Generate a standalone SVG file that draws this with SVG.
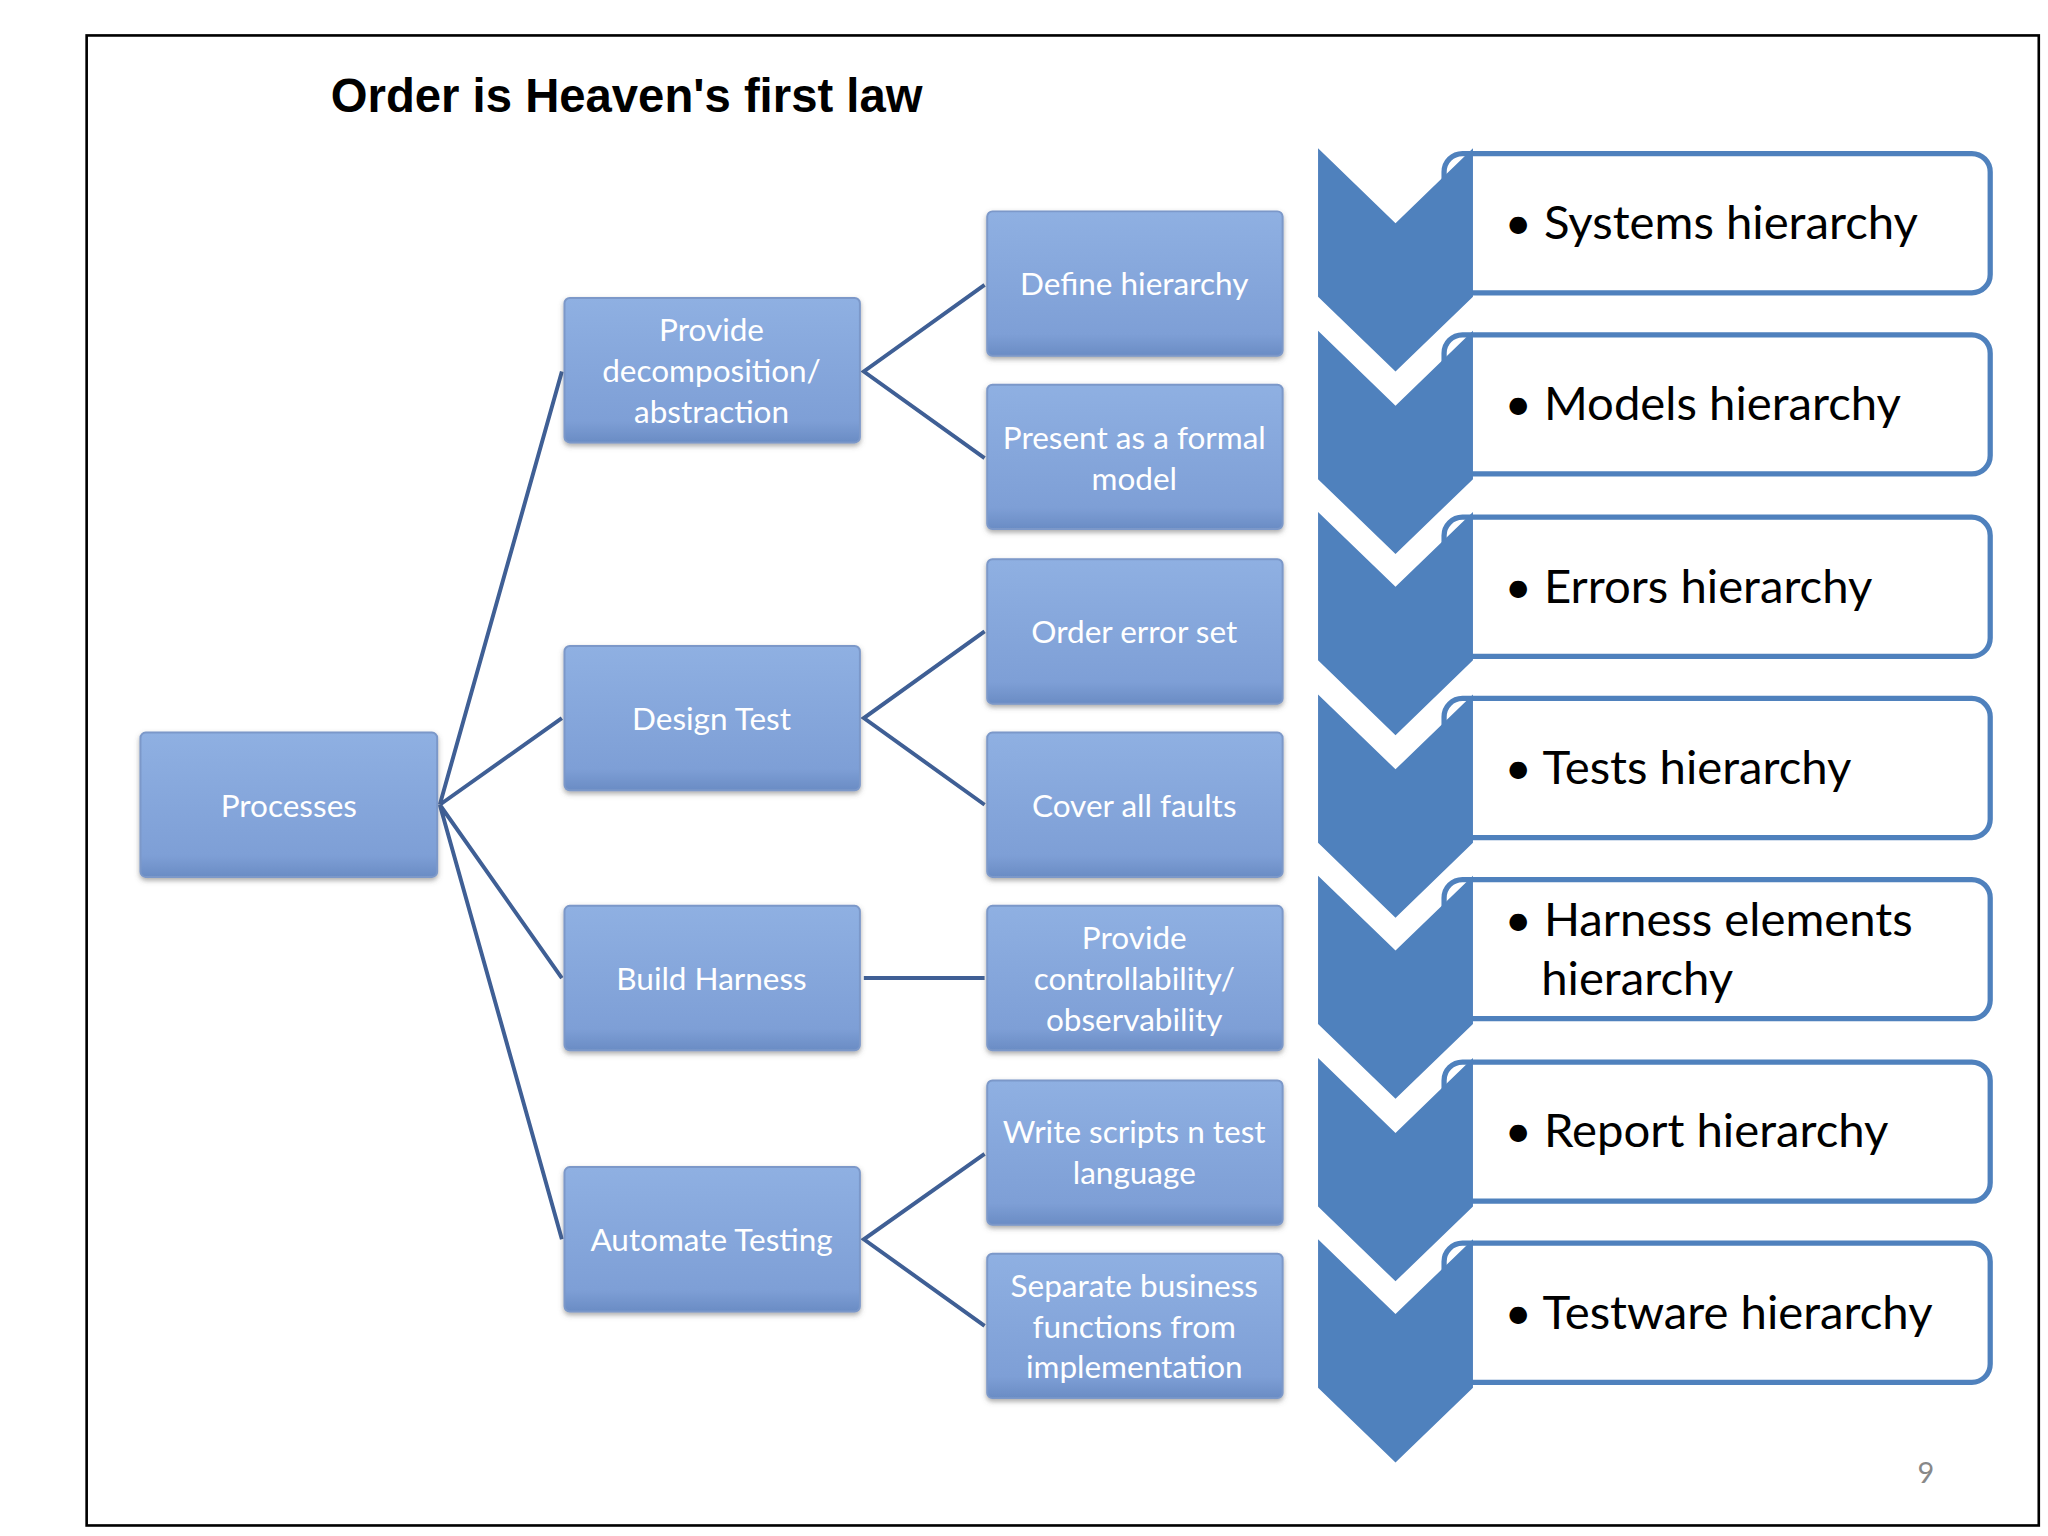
<svg xmlns="http://www.w3.org/2000/svg" width="2048" height="1536" viewBox="0 0 2048 1536">
<defs>
<linearGradient id="bg" x1="0" y1="0" x2="0" y2="1">
<stop offset="0" stop-color="#8fb0e2"/><stop offset="0.85" stop-color="#7e9fd6"/><stop offset="1" stop-color="#6a8cc4"/>
</linearGradient>
<filter id="sh" x="-10%" y="-10%" width="120%" height="130%"><feDropShadow dx="0" dy="2" stdDeviation="2" flood-color="#555" flood-opacity="0.5"/></filter>
</defs>
<style>
.b{fill:url(#bg);stroke:#7b98c9;stroke-width:1.5;filter:url(#sh)}
.bt{font-family:Lato,"Open Sans",sans-serif;font-size:24px;fill:#fff;text-anchor:middle}
.c{stroke:#3f5f95;stroke-width:3;fill:none}
.ch{fill:#4f81bd}
.rb{fill:#fff;stroke:#4f81bd;stroke-width:4}
.rt{font-family:Lato,"Open Sans",sans-serif;font-size:36px;fill:#000}
</style>
<rect width="2048" height="1536" fill="#fff"/>
<g transform="scale(1.3128)">
<rect x="66" y="27" width="1487" height="1135" fill="none" stroke="#000" stroke-width="2"/>
<text x="252" y="85" font-family="Liberation Sans,Arial,sans-serif" font-weight="bold" font-size="36">Order is Heaven's first law</text>
<g id="connectors">
<path class="c" d="M335 613L428 283M335 613L428 547M335 613L428 745M335 613L428 944"/>
<path class="c" d="M750 217L658 283L750 349M750 481L658 547L750 613M658 745H750M750 879L658 944L750 1010"/>
</g>
<g id="processes"><rect class="b" x="107" y="558" width="226" height="110" rx="4"/><text class="bt" x="220" y="622">Processes</text></g>
<g id="decomp"><rect class="b" x="430" y="227" width="225" height="110" rx="4"/><text class="bt" x="542" y="260">Provide</text><text class="bt" x="542" y="291">decomposition/</text><text class="bt" x="542" y="322">abstraction</text></g>
<g id="design"><rect class="b" x="430" y="492" width="225" height="110" rx="4"/><text class="bt" x="542" y="556">Design Test</text></g>
<g id="harness"><rect class="b" x="430" y="690" width="225" height="110" rx="4"/><text class="bt" x="542" y="754">Build Harness</text></g>
<g id="automate"><rect class="b" x="430" y="889" width="225" height="110" rx="4"/><text class="bt" x="542" y="953">Automate Testing</text></g>
<g id="define"><rect class="b" x="752" y="161" width="225" height="110" rx="4"/><text class="bt" x="864" y="225">Define hierarchy</text></g>
<g id="present"><rect class="b" x="752" y="293" width="225" height="110" rx="4"/><text class="bt" x="864" y="342">Present as a formal</text><text class="bt" x="864" y="373">model</text></g>
<g id="order"><rect class="b" x="752" y="426" width="225" height="110" rx="4"/><text class="bt" x="864" y="490">Order error set</text></g>
<g id="cover"><rect class="b" x="752" y="558" width="225" height="110" rx="4"/><text class="bt" x="864" y="622">Cover all faults</text></g>
<g id="ctrl"><rect class="b" x="752" y="690" width="225" height="110" rx="4"/><text class="bt" x="864" y="723">Provide</text><text class="bt" x="864" y="754">controllability/</text><text class="bt" x="864" y="785">observability</text></g>
<g id="write"><rect class="b" x="752" y="823" width="225" height="110" rx="4"/><text class="bt" x="864" y="871">Write scripts n test</text><text class="bt" x="864" y="902">language</text></g>
<g id="separate"><rect class="b" x="752" y="955" width="225" height="110" rx="4"/><text class="bt" x="864" y="988">Separate business</text><text class="bt" x="864" y="1019">functions from</text><text class="bt" x="864" y="1050">implementation</text></g>
<g id="list">
<rect class="rb" x="1100" y="117" width="416" height="106" rx="14"/>
<rect class="rb" x="1100" y="255" width="416" height="106" rx="14"/>
<rect class="rb" x="1100" y="394" width="416" height="106" rx="14"/>
<rect class="rb" x="1100" y="532" width="416" height="106" rx="14"/>
<rect class="rb" x="1100" y="670" width="416" height="106" rx="14"/>
<rect class="rb" x="1100" y="809" width="416" height="106" rx="14"/>
<rect class="rb" x="1100" y="947" width="416" height="106" rx="14"/>
<polygon class="ch" points="1004,113 1063,170 1122,113 1122,226 1063,283 1004,226"/>
<polygon class="ch" points="1004,252 1063,309 1122,252 1122,365 1063,422 1004,365"/>
<polygon class="ch" points="1004,390 1063,447 1122,390 1122,503 1063,560 1004,503"/>
<polygon class="ch" points="1004,529 1063,586 1122,529 1122,642 1063,699 1004,642"/>
<polygon class="ch" points="1004,667 1063,724 1122,667 1122,780 1063,837 1004,780"/>
<polygon class="ch" points="1004,806 1063,863 1122,806 1122,919 1063,976 1004,919"/>
<polygon class="ch" points="1004,944 1063,1001 1122,944 1122,1057 1063,1114 1004,1057"/>
<text class="rt" x="1146" y="182">• Systems hierarchy</text>
<text class="rt" x="1146" y="320">• Models hierarchy</text>
<text class="rt" x="1146" y="459">• Errors hierarchy</text>
<text class="rt" x="1146" y="597">• Tests hierarchy</text>
<text class="rt" x="1146" y="713">• Harness  elements</text>
<text class="rt" x="1174" y="758">hierarchy</text>
<text class="rt" x="1146" y="874">• Report hierarchy</text>
<text class="rt" x="1146" y="1012">• Testware hierarchy</text>
</g>
<text x="1467" y="1130" font-family="Lato,sans-serif" font-size="22" fill="#888" text-anchor="middle">9</text>
</g>
</svg>
